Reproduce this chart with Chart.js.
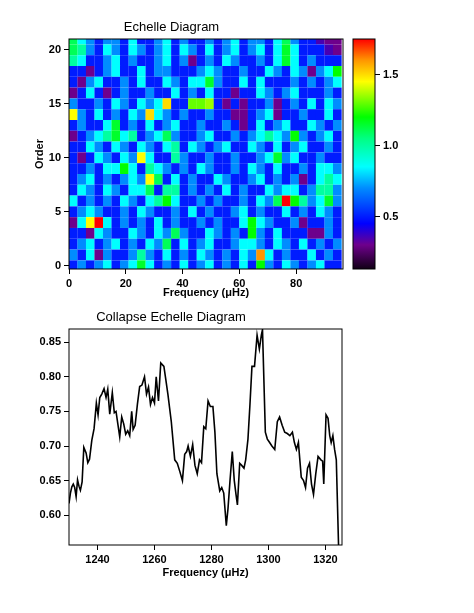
<!DOCTYPE html>
<html><head><meta charset="utf-8">
<script src="https://cdn.jsdelivr.net/npm/chart.js@4"></script>
<style>
body{margin:0;background:#fff;width:474px;height:613px;position:relative;overflow:hidden}
.c{position:absolute}
</style></head><body>
<div class="c" style="left:0;top:0;width:348px;height:300px"><canvas id="c1"></canvas></div>
<div class="c" style="left:300px;top:0;width:110px;height:300px"><canvas id="c2"></canvas></div>
<div class="c" style="left:0;top:300px;width:474px;height:313px"><canvas id="c3"></canvas></div>
<script>
// Echelle diagram columns (bin centres, µHz) and orders
const colCenters = [1.5,4.5,7.5,10.5,13.5,16.5,19.5,22.5,25.5,28.5,31.5,34.5,37.5,40.5,43.5,46.5,49.5,52.5,55.5,58.5,61.5,64.5,67.5,70.5,73.5,76.5,79.5,82.5,85.5,88.5,91.5,94.5];
const orders = [0,1,2,3,4,5,6,7,8,9,10,11,12,13,14,15,16,17,18,19,20,21];
const echelle = [
[0.5,0.7,0.5,0.7,0.85,0.5,0.7,0.85,1.15,0.85,0.5,0.7,0.5,0.85,0.5,0.7,0.85,0.5,0.7,0.5,0.85,0.5,1.2,0.7,0.5,0.85,0.7,0.5,0.7,0.85,0.5,0.5],
[0.7,0.5,0.85,0.3,0.7,0.5,0.5,0.7,1.0,0.7,0.5,0.85,0.5,0.7,0.5,0.85,0.7,0.5,0.7,0.5,0.85,0.7,1.6,0.85,0.5,0.7,0.5,0.5,0.85,0.5,0.7,0.5],
[0.5,0.7,0.85,0.5,0.7,0.85,0.5,0.7,0.5,0.85,0.7,1.1,0.5,0.85,0.5,0.7,0.85,0.5,0.5,0.7,0.85,0.85,0.7,0.5,0.85,0.7,0.5,0.85,0.5,0.7,0.5,0.7],
[0.5,0.5,0.3,0.85,0.7,0.5,0.5,0.85,0.7,0.5,0.85,0.7,1.1,0.7,0.5,0.5,0.85,0.7,0.5,0.7,0.5,1.2,0.7,0.5,0.85,0.5,0.5,0.5,0.3,0.3,0.7,0.5],
[0.3,0.85,1.45,1.75,0.85,0.5,0.7,0.5,0.7,0.5,0.85,0.5,0.7,0.5,0.5,0.7,0.5,0.7,0.5,0.5,0.85,1.2,0.85,0.7,0.5,0.5,0.7,0.3,0.5,0.5,0.7,0.5],
[0.5,0.7,0.85,0.7,0.5,0.5,0.7,0.5,0.85,0.7,0.5,0.5,0.7,0.5,0.85,0.5,0.7,0.5,0.5,0.7,0.85,0.5,0.7,0.5,0.5,0.85,0.5,0.7,0.5,0.85,0.7,0.5],
[0.85,0.5,0.7,0.5,0.7,0.5,0.85,0.7,0.5,0.85,1.0,1.2,0.85,0.5,0.5,0.7,0.5,0.7,0.5,0.5,0.7,0.5,0.85,0.7,1.1,1.75,1.2,1.0,0.7,0.85,1.15,0.7],
[0.5,0.85,0.7,0.5,0.85,0.7,0.5,0.85,0.85,1.1,0.5,1.0,1.0,0.5,0.7,0.5,0.7,0.5,0.85,0.5,0.7,0.5,0.5,0.85,0.7,0.85,0.85,0.5,0.7,1.0,1.0,0.7],
[0.5,0.7,0.85,0.5,0.7,0.5,0.7,0.85,0.7,1.45,1.1,0.5,0.85,0.5,0.7,0.5,0.5,0.85,0.7,0.5,0.5,0.7,0.85,0.5,0.7,0.5,0.7,0.3,0.5,0.85,1.0,0.85],
[0.5,0.5,0.7,0.5,0.85,0.85,1.2,0.85,0.5,1.0,0.85,0.7,0.5,0.7,0.5,0.85,0.7,0.5,0.5,0.7,0.5,0.85,0.7,0.5,0.85,0.5,0.5,0.7,0.5,0.85,0.85,0.7],
[0.5,0.3,0.5,0.85,0.7,0.5,0.85,0.7,1.45,0.85,0.5,0.5,1.0,0.7,0.5,0.5,0.7,0.5,0.5,0.7,0.5,0.5,0.7,0.85,1.15,0.7,0.85,0.5,0.5,0.7,0.5,0.5],
[0.5,0.5,0.85,0.7,0.5,0.85,0.7,0.5,0.85,0.7,0.5,0.85,1.0,0.5,0.85,0.7,0.5,0.7,0.85,0.5,0.5,0.85,0.7,0.5,0.85,0.5,0.7,0.85,0.5,0.5,0.7,0.5],
[0.3,0.5,0.7,0.85,1.0,1.15,0.85,1.0,0.5,0.7,0.85,1.1,0.7,0.5,0.5,0.7,0.85,0.5,0.5,0.7,0.5,0.7,0.85,1.0,0.85,0.7,1.2,0.7,0.5,0.7,0.85,0.5],
[0.5,0.7,0.5,0.5,0.85,1.15,0.5,0.7,0.5,0.85,0.5,0.7,0.85,0.5,0.5,0.7,0.5,0.5,0.7,0.5,0.3,0.5,0.85,0.5,0.7,0.85,0.5,0.5,0.85,0.7,0.5,0.7],
[1.45,0.7,0.5,0.85,0.5,0.7,0.5,0.85,0.7,1.5,0.85,0.7,0.5,0.7,0.5,0.5,0.7,0.5,0.5,0.3,0.3,0.5,0.7,0.85,0.3,0.5,0.5,0.7,0.5,0.5,0.85,0.5],
[0.7,0.5,0.5,0.7,0.5,0.85,0.7,0.5,0.85,0.7,0.85,1.5,0.5,0.5,1.3,1.3,1.35,0.5,0.3,0.5,0.3,0.5,0.5,0.7,0.3,0.5,0.7,0.5,0.85,0.5,0.85,0.7],
[0.3,0.5,0.85,0.5,0.3,0.5,0.7,0.5,0.5,0.7,0.5,0.5,0.85,0.5,0.7,0.5,0.85,0.5,0.5,0.3,0.5,0.5,0.85,0.7,0.5,0.7,0.85,0.5,0.5,0.5,0.7,0.5],
[0.5,0.3,0.7,0.85,0.5,0.5,0.7,0.5,0.85,0.5,0.5,0.85,0.7,0.5,0.85,0.85,1.15,0.7,0.5,0.5,0.85,0.5,0.85,0.5,0.5,0.5,0.7,0.5,0.7,0.5,0.7,0.85],
[0.5,0.5,0.3,0.5,0.7,0.85,0.5,0.5,0.85,0.5,0.7,0.7,0.5,0.5,0.5,0.7,0.85,0.7,0.5,0.5,0.7,0.5,0.5,0.85,0.7,0.5,0.85,0.7,0.3,0.7,0.85,1.2],
[1.0,0.85,0.5,0.5,0.7,0.85,0.5,0.7,0.5,0.5,0.7,0.85,0.5,0.7,0.3,0.5,0.7,0.5,0.85,0.7,0.5,0.5,0.7,0.5,0.85,1.15,0.85,0.5,0.7,0.5,0.5,0.5],
[1.1,1.0,0.7,0.5,0.85,0.7,0.5,0.85,0.7,0.5,0.7,0.85,0.5,0.85,0.7,0.5,0.85,0.5,0.7,0.85,0.5,0.7,0.85,0.5,0.85,1.15,0.85,0.5,0.5,0.5,0.35,0.3],
[1.1,0.85,0.7,0.5,0.7,0.7,0.5,0.85,0.5,0.5,0.7,0.85,0.5,0.7,0.5,0.5,0.7,0.5,0.7,0.85,0.5,0.7,0.7,0.5,0.85,1.1,0.7,0.5,0.5,0.35,0.3,0.3]
];
const xTicks1 = [0,20,40,60,80];
const yTicks1 = [0,5,10,15,20];
const cbarTicks = [0.5,1.0,1.5];
const cbarRange = [0.13,1.75];

// Collapsed echelle diagram
const freq = [1230,1230.5,1231,1231.5,1232,1232.5,1233,1233.5,1234,1234.6,1235.2,1236,1236.6,1237.2,1238,1238.8,1239.6,1240.2,1240.8,1241.5,1242.3,1243,1243.6,1244.3,1245.2,1245.9,1246.5,1247.2,1247.8,1248.5,1249.2,1249.9,1250.6,1251.3,1252,1252.5,1253.2,1254,1254.8,1255.6,1256.5,1257.2,1257.9,1258.6,1259.3,1260,1260.6,1261.4,1262.2,1263.3,1264,1264.7,1265.9,1267.1,1268,1268.9,1269.8,1270.6,1271.3,1271.8,1272.6,1273.4,1274.2,1275,1275.8,1276.5,1277.3,1278,1278.8,1279.6,1280.5,1281.2,1281.9,1282.9,1283.6,1284.3,1285.2,1285.8,1286.5,1287.3,1288,1288.6,1289.1,1289.9,1290.6,1291.4,1292,1292.8,1293.5,1294.2,1295.1,1296,1296.8,1297.5,1297.9,1298.9,1299.6,1300.4,1301.2,1302.2,1303.1,1303.9,1304.8,1305.7,1306.6,1307.5,1308.4,1309.1,1309.8,1310.5,1311.5,1312.3,1313,1313.7,1314.4,1315.1,1315.8,1316.6,1317.4,1318.4,1319,1319.4,1320.2,1320.9,1321.5,1322,1322.6,1323.2,1323.8,1324.6,1325.6];
const power = [0.617,0.632,0.641,0.645,0.640,0.627,0.651,0.642,0.636,0.648,0.698,0.690,0.676,0.681,0.708,0.725,0.762,0.745,0.770,0.775,0.783,0.770,0.782,0.746,0.777,0.748,0.750,0.730,0.713,0.742,0.732,0.717,0.722,0.715,0.750,0.724,0.730,0.760,0.786,0.788,0.800,0.775,0.785,0.760,0.770,0.762,0.800,0.765,0.820,0.815,0.795,0.775,0.735,0.680,0.675,0.663,0.650,0.688,0.692,0.700,0.685,0.702,0.672,0.660,0.680,0.676,0.728,0.725,0.765,0.757,0.757,0.720,0.660,0.635,0.640,0.632,0.585,0.610,0.650,0.692,0.650,0.630,0.615,0.675,0.672,0.668,0.680,0.710,0.760,0.815,0.815,0.860,0.840,0.860,0.868,0.720,0.710,0.705,0.700,0.695,0.735,0.742,0.730,0.720,0.718,0.715,0.720,0.705,0.695,0.705,0.655,0.650,0.640,0.668,0.675,0.645,0.630,0.660,0.685,0.680,0.678,0.645,0.745,0.740,0.715,0.705,0.715,0.695,0.680,0.555];
const xTicks3 = [1240,1260,1280,1300,1320];
const yTicks3 = [0.60,0.65,0.70,0.75,0.80,0.85];

const stops = [[0.1,[0,0,0]],[0.3,[110,0,140]],[0.45,[0,0,255]],[0.7,[0,140,255]],[0.85,[0,255,255]],[1.05,[0,255,130]],[1.2,[0,255,0]],[1.45,[255,255,0]],[1.6,[255,150,0]],[1.75,[255,0,0]]];
function cmap(v){
  if(v<=stops[0][0]) return 'rgb(0,0,0)';
  for(let i=1;i<stops.length;i++){
    if(v<=stops[i][0]){
      const [a,ca]=stops[i-1],[b,cb]=stops[i];const t=(v-a)/(b-a);
      return 'rgb('+ca.map((c,k)=>Math.round(c+(cb[k]-c)*t)).join(',')+')';
    }
  }
  return 'rgb(255,0,0)';
}
const FONT={family:'Liberation Sans, Arial, sans-serif',size:11,weight:'bold'};
const boxPlugin={id:'box',afterDraw(ch){const a=ch.chartArea,c=ch.ctx;c.save();c.strokeStyle='#000';c.lineWidth=1;c.strokeRect(a.left,a.top,a.right-a.left,a.bottom-a.top);c.restore();}};
const gridOpt={display:true,drawOnChartArea:false,color:'#000',tickLength:5};

// Chart 1: echelle heatmap
const ds1 = orders.map((o,r)=>({
  data: colCenters.map(x=>({x:x,y:[o-0.5,o+0.5]})),
  backgroundColor: echelle[r].map(cmap),
  borderWidth:0, borderSkipped:false, barPercentage:1.02, categoryPercentage:1, grouped:false
}));
new Chart(document.getElementById('c1'),{
  type:'bar',data:{datasets:ds1},
  options:{animation:false,responsive:true,maintainAspectRatio:false,
    layout:{padding:{right:5}},
    plugins:{legend:{display:false},tooltip:{enabled:false},
      title:{display:true,text:'Echelle Diagram',color:'#000',font:{family:FONT.family,size:13,weight:'normal',lineHeight:1.2},padding:{top:20,bottom:3.4}}},
    scales:{
      x:{type:'linear',offset:false,min:0,max:96.5,afterBuildTicks:s=>{s.ticks=xTicks1.map(v=>({value:v}));},
        ticks:{color:'#000',font:FONT,maxRotation:0},grid:{...gridOpt,offset:false},border:{display:false},
        title:{display:true,text:'Frequency (\u03bcHz)',color:'#000',font:FONT,padding:0},
        afterFit:s=>{s.height=31;}},
      y:{type:'linear',min:-0.3,max:21,afterBuildTicks:s=>{s.ticks=yTicks1.map(v=>({value:v}));},
        ticks:{color:'#000',font:FONT},grid:gridOpt,border:{display:false},
        title:{display:true,text:'Order',color:'#000',font:FONT,padding:{top:33,bottom:0}},
        afterFit:s=>{s.width=69;}}
    }},
  plugins:[boxPlugin]
});

// Chart 2: colour bar
new Chart(document.getElementById('c2'),{
  type:'bar',
  data:{labels:['c'],datasets:[{data:[cbarRange],borderWidth:0,barPercentage:1,categoryPercentage:1,
    backgroundColor:(ctx)=>{const ch=ctx.chart,a=ch.chartArea;if(!a)return '#000';
      const ys=ch.scales.y;const g=ch.ctx.createLinearGradient(0,ys.getPixelForValue(cbarRange[0]),0,ys.getPixelForValue(cbarRange[1]));
      const lo=cbarRange[0],hi=cbarRange[1];
      stops.forEach(s=>{const t=(s[0]-lo)/(hi-lo);if(t>=0&&t<=1)g.addColorStop(t,cmap(s[0]));});
      g.addColorStop(0,cmap(lo));g.addColorStop(1,cmap(hi));return g;}}]},
  options:{animation:false,responsive:true,maintainAspectRatio:false,
    layout:{padding:{left:53,top:39,bottom:31}},
    plugins:{legend:{display:false},tooltip:{enabled:false}},
    scales:{
      x:{display:false},
      y:{position:'right',min:cbarRange[0],max:cbarRange[1],afterBuildTicks:s=>{s.ticks=cbarTicks.map(v=>({value:v}));},
        ticks:{color:'#000',font:FONT,callback:v=>v.toFixed(1)},grid:gridOpt,border:{display:false},
        afterFit:s=>{s.width=35;}}
    }},
  plugins:[boxPlugin]
});

// Chart 3: collapsed echelle
new Chart(document.getElementById('c3'),{
  type:'line',
  data:{datasets:[{data:freq.map((f,i)=>({x:f,y:power[i]})),borderColor:'#000',borderWidth:1.6,pointRadius:0,tension:0}]},
  options:{animation:false,responsive:true,maintainAspectRatio:false,
    layout:{padding:{right:132,bottom:33}},
    plugins:{legend:{display:false},tooltip:{enabled:false},
      title:{display:true,text:'Collapse Echelle Diagram',color:'#000',font:{family:FONT.family,size:13,weight:'normal',lineHeight:1.2},padding:{top:10,bottom:3.4}}},
    scales:{
      x:{type:'linear',min:1230,max:1325.8,afterBuildTicks:s=>{s.ticks=xTicks3.map(v=>({value:v}));},
        ticks:{color:'#000',font:FONT,maxRotation:0,callback:v=>String(v)},grid:gridOpt,border:{display:false},
        title:{display:true,text:'Frequency (\u03bcHz)',color:'#000',font:FONT,padding:0},
        afterFit:s=>{s.height=35;}},
      y:{type:'linear',min:0.557,max:0.869,afterBuildTicks:s=>{s.ticks=yTicks3.map(v=>({value:v}));},
        ticks:{color:'#000',font:FONT,callback:v=>v.toFixed(2)},grid:gridOpt,border:{display:false},
        afterFit:s=>{s.width=69;}}
    }},
  plugins:[boxPlugin]
});
</script></body></html>
